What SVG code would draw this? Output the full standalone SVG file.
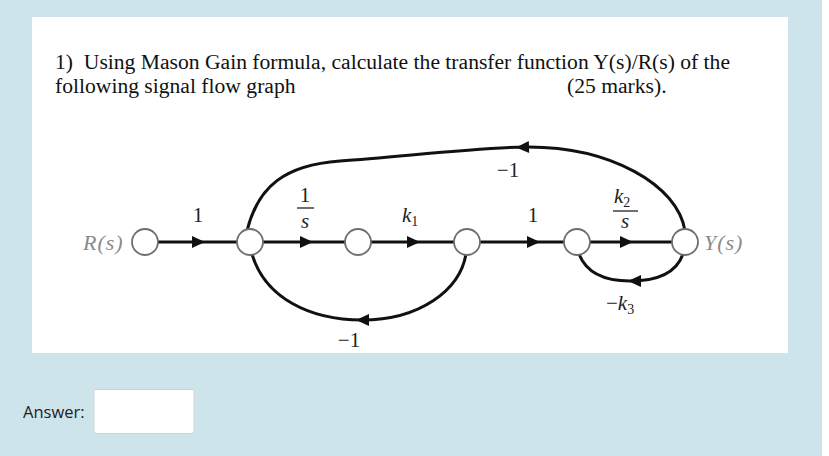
<svg xmlns="http://www.w3.org/2000/svg" xmlns:xlink="http://www.w3.org/1999/xlink" width="829" height="456" viewBox="0 0 829 456">
<style>
.q{font-family:"Liberation Serif","Times New Roman",serif;font-size:21.6px;fill:#111}
.lb{font-family:"Liberation Serif","Times New Roman",serif;font-size:21px;fill:#222}
.it{font-style:italic}
.gl{font-family:"Liberation Serif","Times New Roman",serif;font-size:22px;font-style:italic;fill:#8a8a8a;letter-spacing:1px}
.edge{fill:none;stroke:#111;stroke-width:3}
.node{fill:#fff;stroke:#6e6e6e;stroke-width:1.8}
.ah{fill:#111}
.ans{font-family:"Open Sans","Noto Sans",sans-serif;font-size:16.5px;fill:#1d2125}
</style>
<defs>
<path id="ah" d="M-13,-6 L0,0 L-13,6 Z"/>
</defs>
<rect x="0" y="0" width="822" height="456" fill="#cde5ea"/>
<rect x="822" y="0" width="7" height="456" fill="#ffffff"/>
<rect x="32" y="17" width="756" height="336" fill="#ffffff"/>
<g id="question">
<text class="q" x="55" y="69">1)&#160; Using Mason Gain formula, calculate the transfer function Y(s)/R(s) of the</text>
<text class="q" x="55" y="93">following signal flow graph</text>
<text class="q" x="567" y="93">(25 marks).</text>
</g>
<g id="connectors">
<line class="edge" x1="158" y1="242" x2="237" y2="242"/>
<line class="edge" x1="263" y1="242" x2="345" y2="242"/>
<line class="edge" x1="371" y1="242" x2="454" y2="242"/>
<line class="edge" x1="480" y1="242" x2="564" y2="242"/>
<line class="edge" x1="590" y1="242" x2="672" y2="242"/>
<path class="edge" d="M247,231 C258,186 285,165 340,161 C400,157 470,148 525,147 C610,146 678,185 685,231"/>
<path class="edge" d="M252,254 C265,298 310,320 362,320 C420,320 460,290 466,254"/>
<path class="edge" d="M683,254 C676,274 656,281 630,281 C604,281 586,272 579,254"/>
<g class="ah">
<use xlink:href="#ah" transform="translate(205,242)"/>
<use xlink:href="#ah" transform="translate(313,242)"/>
<use xlink:href="#ah" transform="translate(420,242)"/>
<use xlink:href="#ah" transform="translate(540,242)"/>
<use xlink:href="#ah" transform="translate(633,242)"/>
<use xlink:href="#ah" transform="translate(516,147.5) rotate(178)"/>
<use xlink:href="#ah" transform="translate(356,320) rotate(180)"/>
<use xlink:href="#ah" transform="translate(628,281) rotate(180)"/>
</g>
</g>
<g id="nodeR"><circle class="node" cx="145" cy="242" r="13"/><text class="gl" x="83" y="250">R(s)</text></g>
<g id="nodeY"><circle class="node" cx="685" cy="242" r="13"/><text class="gl" x="704" y="250">Y(s)</text></g>
<g id="node2"><circle class="node" cx="250" cy="242" r="13"/></g>
<g id="node3"><circle class="node" cx="358" cy="242" r="13"/></g>
<g id="node4"><circle class="node" cx="467" cy="242" r="13"/></g>
<g id="node5"><circle class="node" cx="577" cy="242" r="13"/></g>
<g id="labels">
<text class="lb" x="198" y="222" text-anchor="middle">1</text>
<text class="lb" x="305" y="202" text-anchor="middle">1</text>
<line x1="297" y1="208" x2="314" y2="208" stroke="#222" stroke-width="1.3"/>
<text class="lb it" x="305" y="228" text-anchor="middle">s</text>
<text class="lb it" x="402" y="222">k<tspan font-size="14" font-style="normal" dy="4">1</tspan></text>
<text class="lb" x="533" y="222" text-anchor="middle">1</text>
<text class="lb it" x="614" y="203">k<tspan font-size="14" font-style="normal" dy="4">2</tspan></text>
<line x1="613" y1="211" x2="638" y2="211" stroke="#222" stroke-width="1.3"/>
<text class="lb it" x="625" y="228" text-anchor="middle">s</text>
<text class="lb" x="508" y="177" text-anchor="middle">−1</text>
<text class="lb" x="349" y="347" text-anchor="middle">−1</text>
<text class="lb" x="606" y="310">−<tspan class="it">k</tspan><tspan font-size="14" dy="4">3</tspan></text>
</g>
<g id="answer">
<text class="ans" x="23" y="418">Answer:</text>
<rect x="94" y="389.5" width="100" height="44" rx="2" fill="#ffffff" stroke="#cfd4d8" stroke-width="1"/>
</g>
</svg>
